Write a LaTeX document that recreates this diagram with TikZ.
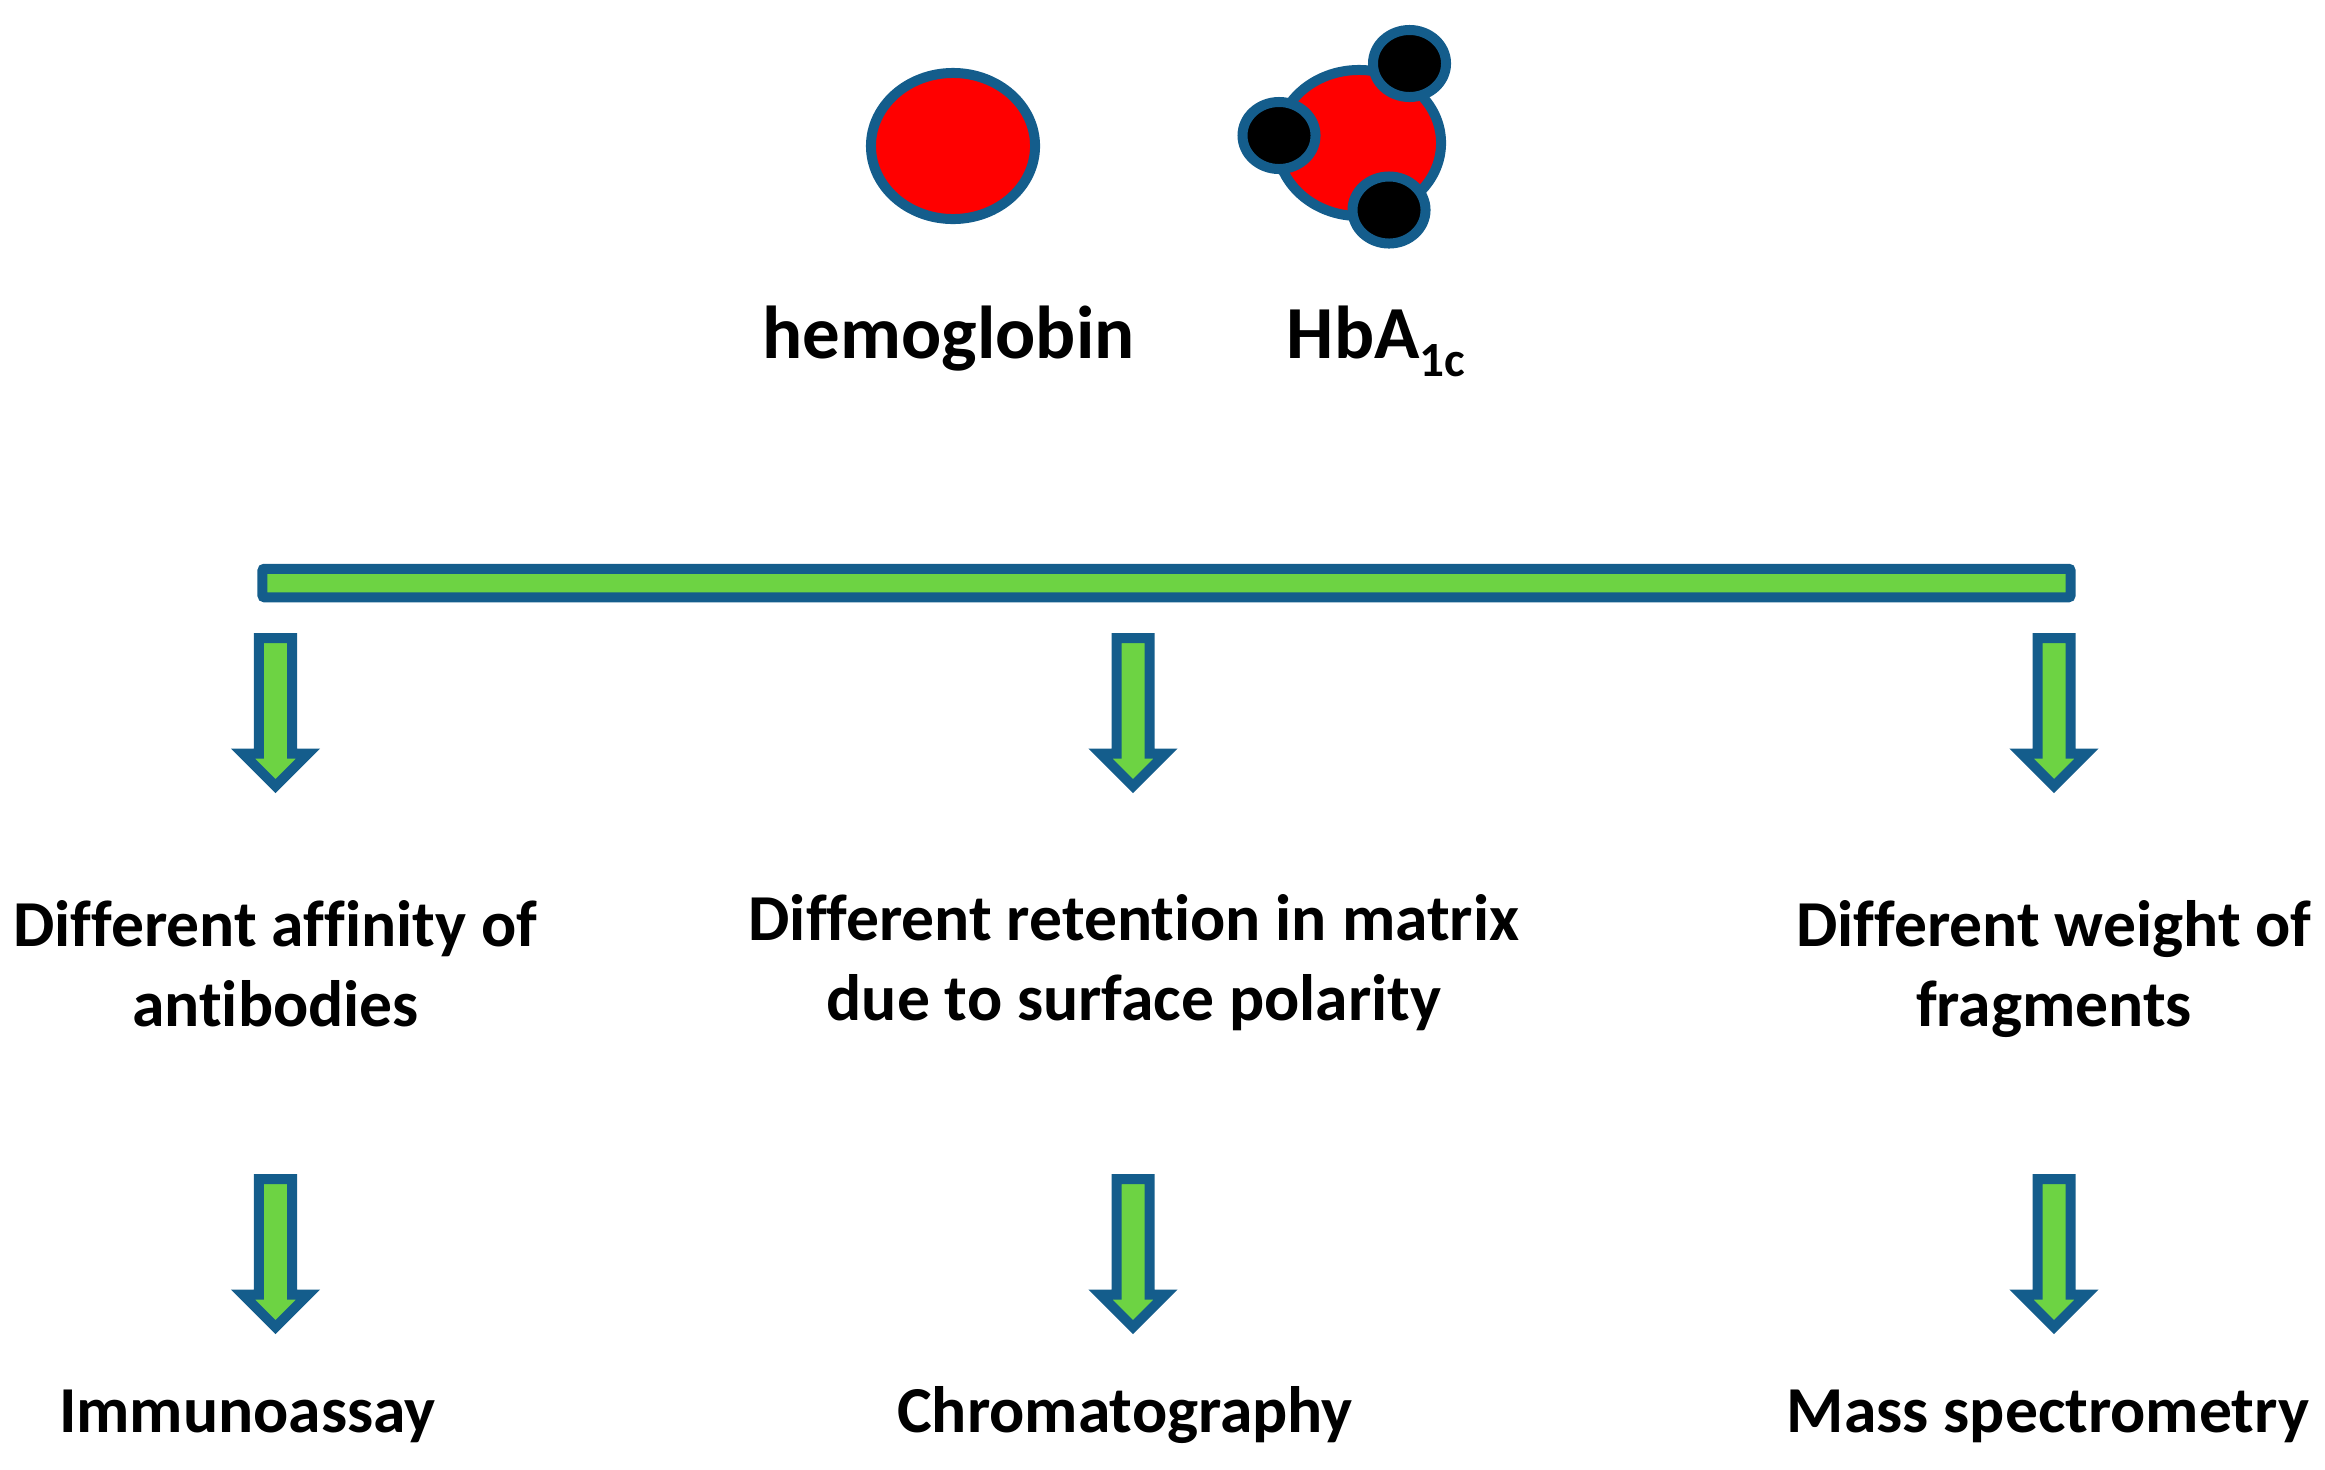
\documentclass[tikz,border=0pt]{standalone}
\usepackage{fontspec}
\setmainfont{Carlito}[Ligatures=NoCommon]
\usetikzlibrary{shapes.geometric, shapes.arrows, positioning}
\definecolor{hbBlue}{RGB}{20, 93, 140}
\definecolor{hbGreen}{RGB}{109, 211, 67}
\definecolor{hbRed}{RGB}{255, 0, 0}
\begin{document}
\begin{tikzpicture}[
        x=0.01cm, y=-0.01cm,
        globin/.style={ellipse, draw=hbBlue, fill=hbRed, line width=0.1cm, inner sep=0pt, outer sep=0pt, minimum width=1.64cm, minimum height=1.46cm},
        sugar/.style={ellipse, draw=hbBlue, fill=black, line width=0.1cm, inner sep=0pt, outer sep=0pt, minimum width=0.73cm, minimum height=0.67cm},
        bar/.style={rectangle, draw=hbBlue, fill=hbGreen, line width=0.1cm, rounded corners=0.02cm, inner sep=0pt, outer sep=0pt, minimum width=18.07cm, minimum height=0.285cm},
        downarrow/.style={single arrow, shape border rotate=270, draw=hbBlue, fill=hbGreen, line width=0.1cm, inner sep=0.115cm, outer sep=0pt, minimum width=0cm, minimum height=1.48cm, single arrow head extend=0.16cm, single arrow head indent=0cm, anchor=tail},
        label/.style={align=center, anchor=base, font=\bfseries\fontsize{18.65}{22.6}\selectfont},
        title/.style={anchor=base, font=\bfseries\fontsize{21.3}{24}\selectfont}
    ]
        \useasboundingbox (0,0) rectangle (2325,1469);

        % Molecules
        \node[globin] (hb) at (953,146) {};
        \node[globin] (hba) at (1359,143) {};
        \node[sugar] (glucTop) at (1409.5,63.5) {};
        \node[sugar] (glucLeft) at (1279,135.5) {};
        \node[sugar] (glucBottom) at (1389,210) {};
        \node[title] (hbText) at (948.5,358) {hemoglobin};
        \node[title] (hbaText) at (1376,358) {HbA\raisebox{-0.25em}{\fontsize{14}{14}\selectfont 1c}};

        % Bar
        \node[bar] (split) at (1166.5,583) {};

        % First arrows
        \node[downarrow] (arrowA) at (275.5,638) {};
        \node[downarrow] (arrowB) at (1133,638) {};
        \node[downarrow] (arrowC) at (2054,638) {};

        % Principles
        \node[label] (affinity) at (275.5,1026) {Different affinity of\\antibodies};
        \node[label] (retention) at (1134,1020) {Different retention in matrix\\due to surface polarity};
        \node[label] (weight) at (2054,1026) {Different weight of\\fragments};

        % Second arrows
        \node[downarrow] (arrowD) at (275.5,1179) {};
        \node[downarrow] (arrowE) at (1133,1179) {};
        \node[downarrow] (arrowF) at (2054,1179) {};

        % Methods
        \node[label] (immuno) at (247.5,1432) {Immunoassay};
        \node[label] (chroma) at (1125,1432) {Chromatography};
        \node[label] (mass) at (2048,1432) {Mass spectrometry};
    \end{tikzpicture}
\end{document}
